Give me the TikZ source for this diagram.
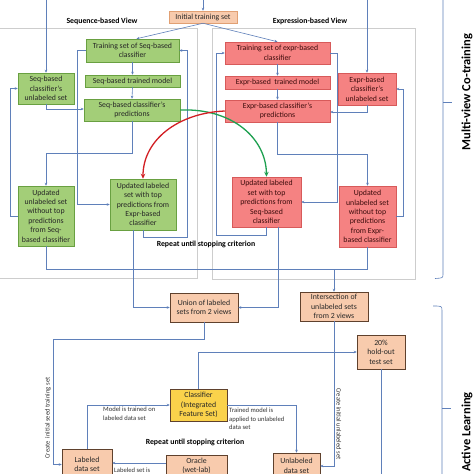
\documentclass[tikz,border=0pt]{standalone}
\usepackage{fontspec}
\setmainfont{Carlito}
\usetikzlibrary{arrows.meta,calc}
\definecolor{cn}{RGB}{95,128,186}
\definecolor{frame}{RGB}{205,205,205}
\definecolor{gfill}{RGB}{163,206,120}
\definecolor{gline}{RGB}{105,160,65}
\definecolor{rfill}{RGB}{245,130,130}
\definecolor{rline}{RGB}{215,90,90}
\definecolor{ofill}{RGB}{248,203,173}
\definecolor{oline}{RGB}{95,65,45}
\definecolor{oinit}{RGB}{225,160,115}
\definecolor{yfill}{RGB}{250,210,75}
\definecolor{gcurve}{RGB}{30,160,80}
\definecolor{rcurve}{RGB}{210,30,35}
\begin{document}
\begin{tikzpicture}[x=1pt,y=-1pt,
  box/.style={draw, line width=0.5pt, align=center, inner sep=1pt, font=\fontsize{7.8}{9.4}\selectfont, text=black!85},
  gbox/.style={box, fill=gfill, draw=gline},
  rbox/.style={box, fill=rfill, draw=rline, text={rgb,255:red,60;green,12;blue,12}},
  obox/.style={box, fill=ofill, draw=oline},
  ybox/.style={box, fill=yfill, draw=oline},
  conn/.style={draw=cn, line width=0.6pt, -{Stealth[length=3pt,width=2.6pt]}},
  plainln/.style={draw=cn, line width=0.6pt},
  frm/.style={draw=frame, line width=0.6pt},
  ttl/.style={font=\bfseries\fontsize{7.8}{9}\selectfont, inner sep=0pt},
  note/.style={font=\fontsize{6.6}{8.5}\selectfont, align=left, text=black!80, inner sep=1pt},
  side/.style={font=\bfseries\fontsize{12.5}{14}\selectfont, rotate=90, inner sep=0pt},
]
\useasboundingbox (0,0) rectangle (474,474);
\clip (0,0) rectangle (474,474);
\fill[white] (0,0) rectangle (474,474);

% view frames
\draw[frm] (-5,28) rectangle (197,278);
\draw[frm] (212,28) rectangle (415,279);

% titles
\node[ttl] (seqv) at (102,21) {Sequence-based View};
\node[ttl] (exprv) at (310,21) {Expression-based View};
\node[ttl] (rep1) at (206,244) {Repeat until stopping criterion};
\node[ttl] (rep2) at (195,442) {Repeat until stopping criterion};
\node[side] (mvc) at (467,92) {Multi-view Co-training};
\node[side] (al) at (467,432) {Active Learning};

% top
\node[obox, draw=oinit, minimum width=68pt, minimum height=12pt] (init) at (203,17) {Initial training set};

% sequence view
\node[gbox, minimum width=93pt, minimum height=23pt] (sts) at (132.5,50.5) {Training set of Seq-based\\classifier};
\node[gbox, minimum width=95pt, minimum height=12pt] (stm) at (132.5,81) {Seq-based trained model};
\node[gbox, minimum width=96pt, minimum height=22pt] (spr) at (132,110) {Seq-based classifier’s\\predictions};
\node[gbox, minimum width=56pt, minimum height=31pt] (sun) at (46,88.5) {Seq-based\\classifier’s\\unlabeled set};
\node[gbox, minimum width=56pt, minimum height=60pt] (suu) at (46,216) {Updated\\unlabeled set\\without top\\predictions\\from Seq-\\based classifier};
\node[gbox, minimum width=66pt, minimum height=51pt] (sul) at (143,204.5) {Updated labeled\\set with top\\predictions from\\Expr-based\\classifier};

% expression view
\node[rbox, minimum width=105pt, minimum height=22pt] (ets) at (277.5,53) {Training set of expr-based\\classifier};
\node[rbox, minimum width=105pt, minimum height=13pt] (etm) at (277.5,82.5) {Expr-based\ \ trained model};
\node[rbox, minimum width=105pt, minimum height=22pt] (epr) at (277.5,111) {Expr-based classifier’s\\predictions};
\node[rbox, minimum width=58pt, minimum height=32pt] (eun) at (367,89) {Expr-based\\classifier’s\\unlabeled set};
\node[rbox, minimum width=69pt, minimum height=50pt] (eul) at (266.5,202) {Updated labeled\\set with top\\predictions from\\Seq-based\\classifier};
\node[rbox, minimum width=57pt, minimum height=61pt] (euu) at (367.5,216.5) {Updated\\unlabeled set\\without top\\predictions\\from Expr-\\based classifier};

% active learning part
\node[obox, minimum width=68pt, minimum height=29pt] (union) at (204,307.5) {Union of labeled\\sets from 2 views};
\node[obox, minimum width=68pt, minimum height=29pt] (inter) at (334,306.5) {Intersection of\\unlabeled sets\\from 2 views};
\node[obox, minimum width=48pt, minimum height=34pt] (test) at (381,352) {20\%\\hold-out\\test set};
\node[ybox, minimum width=57pt, minimum height=32pt] (clf) at (198.5,405) {Classifier\\(Integrated\\Feature Set)};
\node[obox, minimum width=50pt, minimum height=31pt] (lab) at (87,464.5) {Labeled\\data set};
\node[obox, minimum width=61pt, minimum height=22pt] (oracle) at (196.5,466) {Oracle\\(wet-lab)};
\node[obox, minimum width=47pt, minimum height=26pt] (unl) at (296.5,466) {Unlabeled\\data set};

% notes
\node[note, rotate=90] (cs) at (48,418) {Create\ \ initial seed training set};
\node[note, rotate=-90] (cu) at (339,424) {Create initial unlabeled set};
\node[note, anchor=west] (mt) at (102,413.5) {Model is trained on\\labeled data set};
\node[note, anchor=west] (tm) at (228,419) {Trained model is\\applied to unlabeled\\data set};
\node[note, anchor=west] (ls) at (113,470) {Labeled set is};

% incoming lines from above
\coordinate (t1) at (46,-2);
\coordinate (t2) at (203,-2);
\coordinate (t3) at (367,-2);
\draw[conn] (t1) -- (sun.north);
\draw[conn] (t2) -- (init.north);
\draw[conn] (t3) -- (eun.north);
\draw[conn] (init.south) -- ($(sts.north)+(4,0)$);
\draw[conn] (init.south) -- (ets.north);

% sequence view connectors
\draw[conn] (sts.south) -- (stm.north);
\draw[conn] (stm.south) -- (spr.north);
\draw[conn] (sun.south) |- ($(spr.west)+(0,-1)$);
\draw[conn] (spr.south) -- (spr.south |- 0,153) -| (suu.north);
\draw[conn] (suu.west) -- ++(-7,0) |- (sun.west);
\draw[conn] (sts.west) -- ++(-8,0) |- (sul.west);
\draw[conn] (sul.south) -- ++(0,7) -| ($(sts.east)+(8,0)$) -- (sts.east);

% expression view connectors
\draw[conn] (ets.south) -- (etm.north);
\draw[conn] (etm.south) -- (epr.north);
\draw[conn] (eun.south) |- ($(epr.east)+(0,1)$);
\draw[conn] (epr.south) -- (epr.south |- 0,154) -| (euu.north);
\draw[conn] (euu.east) -- ++(7,0) |- (eun.east);
\draw[conn] (ets.east) -- ++(7.5,0) |- (eul.east);
\draw[conn] (eul.south) -- ++(0,8) -| ($(ets.west)+(-8,0)$) -- (ets.west);

% co-training exchange
\draw[draw=gcurve, line width=1.3pt, -{Stealth[length=5pt,width=4.5pt]}] (spr.east) .. controls (232,108) and (266,138) .. (eul.north);
\draw[draw=rcurve, line width=1.3pt, -{Stealth[length=5pt,width=4.5pt]}] (epr.west) .. controls (178,113) and (143,140) .. (sul.north);

% from views to active learning
\draw[conn] (suu.south) |- (inter.north |- 0,269) -- (inter.north);
\draw[plainln] (euu.south) |- (inter.north |- 0,269);
\draw[conn] ($(sul.south)+(-10,0)$) |- (union.west);
\draw[conn] ($(eul.south)+(11.5,0)$) |- (union.east);
\draw[conn] (union.south) |- (53,339) |- (lab.west);
\draw[conn] (inter.south) |- (unl.east);
\draw[conn] (clf.north) |- (test.west);
\draw[conn] (lab.north) |- (clf.west);
\draw[conn] (clf.east) -| (unl.north);
\draw[conn] (oracle.west |- 0,463) -- (lab.east |- 0,463);
\coordinate (tb) at (381,480);
\draw[plainln] (test.south) -- (tb);

% braces
\draw[plainln] (443,-5) -- (443,274) .. controls (443,278) .. (435,278.5);
\draw[plainln] (443,102) -- (452,102);
\draw[plainln] (433,306) .. controls (442,306) .. (442,311) -- (442,480);
\draw[plainln] (442,408) -- (451,408);
\end{tikzpicture}
\end{document}
